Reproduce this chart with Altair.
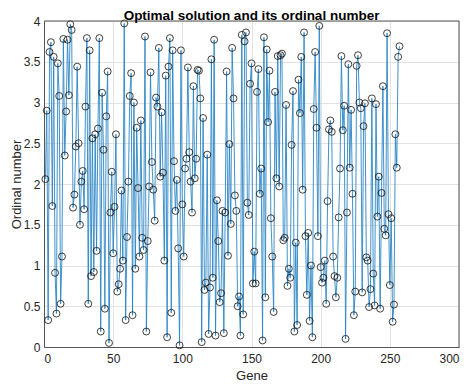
import altair as alt
import pandas as pd

# Ordinal number of each gene in the optimal solution
ordinal = [
    2.06, 2.90, 0.33, 3.62, 3.74, 1.73, 3.56, 0.91, 0.41, 3.48,
    3.08, 0.53, 1.11, 3.78, 2.35, 2.89, 3.77, 3.09, 3.96, 3.89,
    1.71, 1.87, 2.46, 3.44, 2.50, 1.50, 2.03, 2.16, 1.69, 2.95,
    3.79, 0.53, 3.64, 0.87, 2.56, 0.92, 2.61, 1.18, 2.68, 3.79,
    0.19, 3.12, 2.42, 0.47, 2.83, 3.38, 0.05, 1.65, 2.15, 1.15,
    1.72, 2.61, 0.68, 0.77, 0.96, 1.92, 1.06, 3.97, 0.33, 1.35,
    2.03, 3.08, 3.36, 0.39, 3.00, 0.96, 2.69, 1.95, 1.11, 2.78,
    1.34, 1.19, 3.81, 0.19, 1.30, 1.97, 3.37, 2.27, 1.93, 1.55,
    3.06, 2.95, 3.67, 2.09, 2.88, 2.14, 1.06, 3.33, 0.12, 3.44,
    3.79, 0.42, 3.64, 2.28, 1.67, 2.05, 1.21, 0.02, 3.64, 1.75,
    1.11, 2.19, 2.31, 3.43, 2.39, 2.03, 1.65, 3.20, 2.07, 2.31,
    3.40, 3.39, 3.05, 0.06, 2.81, 0.70, 0.79, 2.36, 0.16, 0.73,
    3.53, 0.85, 3.77, 0.14, 1.80, 1.30, 0.55, 0.66, 1.67, 0.17,
    1.65, 3.38, 1.12, 2.49, 1.51, 3.67, 3.05, 1.86, 1.67, 0.50,
    0.62, 0.14, 3.83, 0.40, 3.75, 3.86, 1.77, 1.62, 3.23, 3.48,
    0.78, 1.17, 0.78, 3.13, 3.41, 1.88, 2.19, 0.08, 3.80, 0.61,
    3.65, 2.76, 3.39, 1.58, 1.11, 0.43, 3.13, 2.07, 3.57, 1.97,
    3.58, 3.60, 1.31, 1.34, 2.97, 0.75, 0.96, 0.85, 2.48, 3.14,
    0.19, 1.28, 0.27, 3.28, 2.87, 3.56, 1.93, 3.86, 1.36, 0.64,
    1.40, 0.32, 1.00, 0.12, 2.92, 3.62, 2.69, 1.36, 3.94, 0.98,
    0.79, 0.85, 1.06, 0.53, 1.79, 2.67, 2.78, 2.64, 1.11, 0.87,
    0.61, 0.85, 1.59, 2.19, 3.57, 2.66, 2.96, 0.10, 1.65, 3.47,
    2.20, 2.91, 1.88, 0.39, 0.68, 3.45, 3.58, 3.00, 2.93, 0.67,
    2.71, 2.99, 1.10, 1.06, 0.49, 0.71, 3.05, 0.90, 0.51, 2.98,
    1.60, 2.09, 0.47, 1.89, 3.20, 1.45, 1.37, 3.85, 1.63, 0.76,
    1.58, 0.31, 0.52, 2.61, 2.20, 3.56, 3.69,
]
genes = list(range(1, len(ordinal) + 1))

x_ticks = [0, 50, 100, 150, 200, 250, 300]
y_ticks = [0, 0.5, 1, 1.5, 2, 2.5, 3, 3.5, 4]

df = pd.DataFrame({"Gene": genes, "Ordinal": ordinal})

FONT = "Liberation Sans"
W, H = 415, 326

base = alt.Chart(df).encode(
    x=alt.X(
        "Gene:Q",
        scale=alt.Scale(domain=[0, 300], nice=False, zero=False),
        axis=alt.Axis(
            values=x_ticks, title="Gene", labelFontSize=12, titleFontSize=13,
            labelPadding=6, titlePadding=5, ticks=False, grid=True,
            gridColor="#e3e3e3", domainColor="#555555", labelColor="#262626",
            titleColor="#262626", titleFontWeight="normal", labelFont=FONT, titleFont=FONT,
        ),
    ),
    y=alt.Y(
        "Ordinal:Q",
        scale=alt.Scale(domain=[0, 4], nice=False, zero=False),
        axis=alt.Axis(
            values=y_ticks, format="~g", title="Ordinal number", labelFontSize=12,
            titleFontSize=13, labelPadding=4, titlePadding=0, ticks=False, grid=True,
            gridColor="#e3e3e3", domainColor="#555555", labelColor="#262626",
            titleColor="#262626", titleFontWeight="normal", labelFont=FONT, titleFont=FONT,
        ),
    ),
)

line = base.mark_line(color="#2b86c5", strokeWidth=0.9)
pts = base.mark_point(shape="circle", filled=False, color="#111111", size=48, strokeWidth=0.8, opacity=1)

frame_df = pd.DataFrame({"k": [0]})
top_rule = alt.Chart(frame_df).mark_rule(color="#555555", strokeWidth=1).encode(y=alt.value(0))
right_rule = alt.Chart(frame_df).mark_rule(color="#555555", strokeWidth=1).encode(x=alt.value(W))

chart = (
    alt.layer(line, pts, top_rule, right_rule)
    .properties(
        width=W,
        height=H,
        title=alt.TitleParams(
            "Optimal solution and its ordinal number", fontSize=13.5, fontWeight="bold",
            font=FONT, color="black", offset=-7, anchor="middle",
        ),
        autosize=alt.AutoSizeParams(type="none"),
        padding={"left": 36, "top": 13, "right": 7, "bottom": 35},
    )
    .configure_view(stroke="#555555", strokeWidth=1)
)

chart.save("out.html", embed_options={"renderer": "svg", "actions": False})
